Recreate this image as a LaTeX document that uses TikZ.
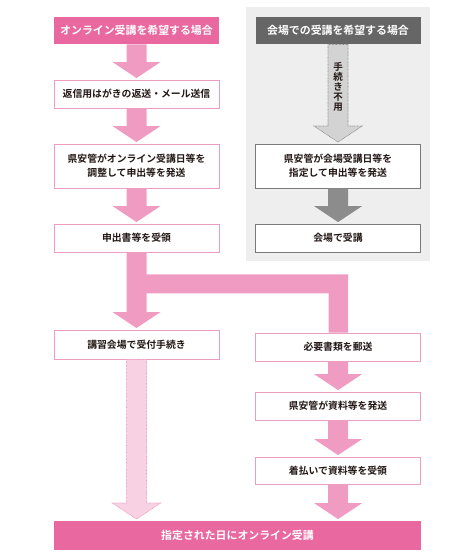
\documentclass[tikz,border=0pt]{standalone}
\usepackage{fontspec}
\setmainfont{Noto Sans CJK JP}[BoldFont={Noto Sans CJK JP Bold}]
\usetikzlibrary{calc}
\definecolor{hdpink}{HTML}{E8689F}
\definecolor{arrowpink}{HTML}{F09CC2}
\definecolor{boxpink}{HTML}{EE9DC2}
\definecolor{lightpink}{HTML}{F8D2E3}
\definecolor{panelgray}{HTML}{EEEEEE}
\definecolor{hdgray}{HTML}{666666}
\definecolor{boxgray}{HTML}{7A7A7A}
\definecolor{lightgray}{HTML}{D3D3D3}
\definecolor{midgray}{HTML}{8C8C8C}
\definecolor{ink}{HTML}{231815}
% block arrow from the bottom of one node to the top of the next
\newcommand{\blockarrow}[3][]{%
 \path[#1] let \p1=(#2),\p2=(#3) in
  (\x1-5mm,\y1)--(\x1-5mm,\y2+8.75mm)--(\x1-12mm,\y2+8.75mm)--(\x1,\y2+.75mm)
  --(\x1+12mm,\y2+8.75mm)--(\x1+5mm,\y2+8.75mm)--(\x1+5mm,\y1)--cycle;}
\begin{document}
\begin{tikzpicture}[x=.5mm,y=-.5mm,line join=miter]
 \tikzset{
 box/.style={draw=boxpink,fill=white,line width=1.2pt,minimum width=82.5mm,minimum height=14mm,
  inner sep=0pt,align=center,text=ink,font=\fontsize{14}{20}\selectfont\bfseries},
 gbox/.style={box,draw=boxgray},
 head/.style={box,draw=none,fill=hdpink,text=white,minimum height=13.5mm,
  font=\fontsize{15.5}{18}\selectfont\bfseries},
 ghead/.style={head,fill=hdgray},
 parrow/.style={fill=arrowpink},
 pdotarrow/.style={fill=lightpink,draw=boxpink,densely dotted,line width=1pt},
 gdotarrow/.style={fill=lightgray,draw=midgray,densely dotted,line width=1pt},
 garrow/.style={fill=midgray}
 }
 \useasboundingbox (0,0) rectangle (474,560);
 \fill[panelgray] (246,7) rectangle (430,261);
 % online
 \node[head] (online) at (136.5,30.5) {オンライン受講を希望する場合};
 \node[box] (henshin) at (136.5,94) {返信用はがきの返送・メール送信};
 \node[box,minimum height=22mm] (chosei) at (136.5,166) {県安管がオンライン受講日等を\\調整して申出等を発送};
 \node[box] (juryo) at (136.5,238) {申出書等を受領};
 \node[box,minimum height=14.5mm] (uketsuke) at (136.5,344.5) {講習会場で受付手続き};
 \node[box] (yuso) at (338,347) {必要書類を郵送};
 \node[box] (hasso) at (338,406) {県安管が資料等を発送};
 \node[box,minimum height=13.5mm] (chakubarai) at (338,470.5) {着払いで資料等を受領};
 \node[head,minimum width=183.5mm,minimum height=14.5mm] (final) at (237.5,535.5) {指定された日にオンライン受講};
 % kaijo
 \node[ghead] (kaijo) at (338,30.5) {会場での受講を希望する場合};
 \node[gbox,minimum height=22mm] (kshitei) at (338,166) {県安管が会場受講日等を\\指定して申出等を発送};
 \node[gbox] (kjuko) at (338,238) {会場で受講};

 \blockarrow[parrow]{online.south}{henshin.north}
 \blockarrow[parrow]{henshin.south}{chosei.north}
 \blockarrow[parrow]{chosei.south}{juryo.north}
 \path[parrow] let \p1=(juryo.south),\p2=(uketsuke.north),\p3=(yuso.north) in
  (\x1-5mm,\y1)--(\x1-5mm,\y2+8.75mm)--(\x1-12mm,\y2+8.75mm)--(\x1,\y2+.75mm)
  --(\x1+12mm,\y2+8.75mm)--(\x1+5mm,\y2+8.75mm)--(\x1+5mm,\y1-20.5mm)
  --(\x3-4.75mm,\y1-20.5mm)--(\x3-4.75mm,\y3)--(\x3+5mm,\y3)--(\x3+5mm,\y1-11mm)
  --(\x1+5mm,\y1-11mm)--(\x1+5mm,\y1)--cycle;
 \blockarrow[pdotarrow]{uketsuke.south}{final.north}
 \blockarrow[parrow]{yuso.south}{hasso.north}
 \blockarrow[parrow]{hasso.south}{chakubarai.north}
 \blockarrow[parrow]{chakubarai.south}{final.north}
 \blockarrow[gdotarrow]{kaijo.south}{kshitei.north}
 \blockarrow[garrow]{kshitei.south}{kjuko.north}
 \node[align=center,text=ink,font=\fontsize{13.5}{14.5}\selectfont\bfseries] (fuyo) at (338,87) {手\\続\\き\\不\\用};
\end{tikzpicture}
\end{document}
